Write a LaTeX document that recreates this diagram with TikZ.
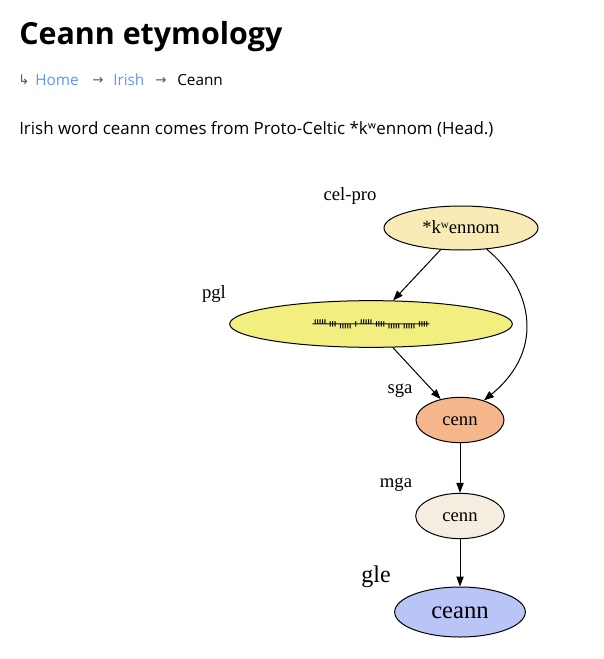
\documentclass[tikz,border=0pt]{standalone}
\usepackage{fontspec}
\setmainfont{Open Sans}
\newfontfamily\graphfont{Liberation Serif}
\newfontfamily\symfont{DejaVu Sans}
\usetikzlibrary{arrows.meta,shapes.geometric,positioning}
\definecolor{linkblue}{HTML}{6495ED}
\definecolor{crumbgray}{HTML}{555555}
\definecolor{celfill}{HTML}{F9EBB6}
\definecolor{pglfill}{HTML}{F2EF80}
\definecolor{sgafill}{HTML}{F6B68B}
\definecolor{mgafill}{HTML}{F6EDE1}
\definecolor{glefill}{HTML}{B8C5F6}
\tikzset{
  word/.style ={draw,ellipse,line width=0.75pt,inner sep=0pt,text height=1.5ex,text depth=0pt,
                font=\graphfont\fontsize{14}{16}\selectfont},
  lang/.style ={font=\graphfont\fontsize{14}{16}\selectfont},
  derive/.style={draw,line width=0.75pt,-{Triangle[length=7.5pt,width=5.5pt]}},
  crumb/.style ={anchor=base west,inner sep=0pt,font=\fontsize{11.5}{13}\selectfont},
  sep/.style   ={anchor=base west,inner sep=0pt,text=crumbgray,font=\symfont\fontsize{10}{12}\selectfont},
}
\begin{document}
\begin{tikzpicture}[x=0.75pt,y=-0.75pt]
  \useasboundingbox (0,0) rectangle (603,659);
  % page header
  \node [anchor=base west,inner sep=0pt,font=\fontsize{22.8}{27}\selectfont\bfseries] (title) at (19,45) {Ceann etymology};
  \node [sep] (hook) at (18,85) {↳};
  \node [crumb,text=linkblue] (home) at (35,86) {Home};
  \node [sep] (arrA) at (92,85) {→};
  \node [crumb,text=linkblue] (irish) at (113,86) {Irish};
  \node [sep] (arrB) at (155,85) {→};
  \node [crumb] (here) at (177,86) {Ceann};
  \node [anchor=base west,inner sep=0pt,font=\fontsize{12.7}{15}\selectfont] (intro) at (19,135)
    {Irish word ceann comes from Proto-Celtic *k{\symfont ʷ}ennom (Head.)};
  % graph
  \node [lang] (celL) at (350,196) {cel-pro};
  \node [word,fill=celfill,minimum width=115.5pt,minimum height=33pt] (cel) at (461,228) {*kʷennom};
  \node [lang] (pglL) at (214,294) {pgl};
  \node [word,fill=pglfill,minimum width=212pt,minimum height=35pt,text height=,text depth=,
         font=\symfont\fontsize{8.3}{10}\selectfont] (pgl) at (371,324) {ᚊᚒᚅᚐᚊᚓᚅᚅᚓ};
  \node [lang] (sgaL) at (400,391) {sga};
  \node [word,fill=sgafill,minimum width=66pt,minimum height=34pt] (sga) at (460,420) {cenn};
  \node [lang] (mgaL) at (396,485) {mga};
  \node [word,fill=mgafill,minimum width=66.5pt,minimum height=34pt] (mga) at (460,516) {cenn};
  \node [lang,font=\graphfont\fontsize{18}{20}\selectfont] (gleL) at (376,577) {gle};
  \node [word,fill=glefill,minimum width=98pt,minimum height=37.5pt,text height=1.7ex,
         font=\graphfont\fontsize{18.5}{20}\selectfont] (gle) at (460,612) {ceann};
  \path [derive] (cel) -- (pgl);
  \path [derive] (cel) .. controls (530,285) and (548,348) .. (sga);
  \path [derive] (pgl) -- (sga);
  \path [derive] (sga) -- (mga);
  \path [derive] (mga) -- (gle);
\end{tikzpicture}
\end{document}
